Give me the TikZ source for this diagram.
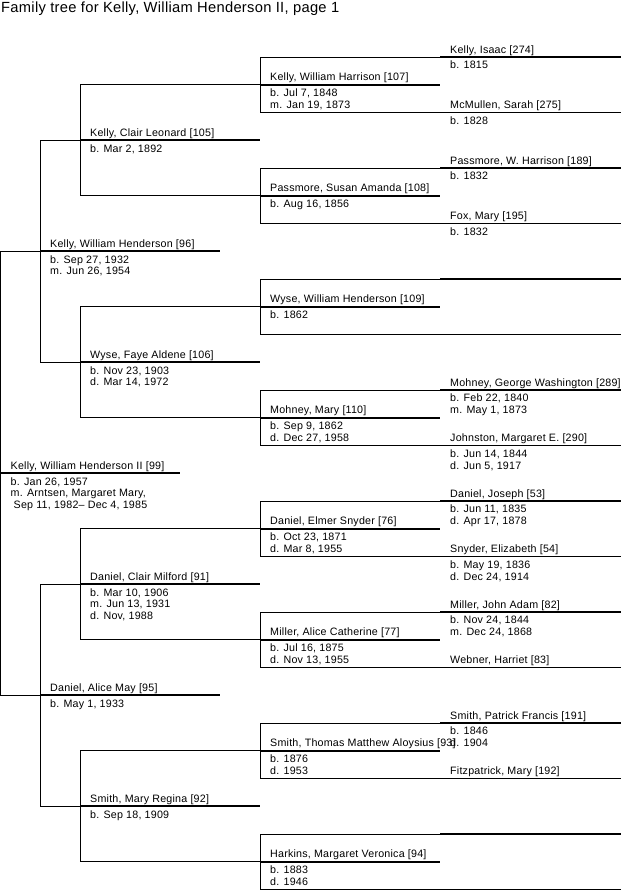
\documentclass[tikz,border=0pt]{standalone}
\usepackage{fontspec}
\setmainfont{Liberation Sans}[LetterSpace=2]
\usetikzlibrary{calc}
\tikzset{
  thickln/.style={line width=1.6pt},
  thinln/.style={line width=0.8pt},
  namelbl/.style={anchor=base west, inner sep=0pt, xshift=10pt, yshift=4pt, font=\fontsize{10.7}{12}\selectfont},
  datelbl/.style={anchor=north west, inner sep=0pt, xshift=10pt, yshift=-4pt, align=left, font=\fontsize{10.7}{11.6}\selectfont},
  titlelbl/.style={anchor=base west, inner sep=0pt, font=\fontsize{14.7}{16}\selectfont},
}
% #1 id, #2 x, #3 y, #4 x end, #5 name, #6 details
\newcommand{\famperson}[6]{%
  \coordinate (#1-s) at (#2,#3);
  \coordinate (#1-e) at (#4,#3);
  \draw[thickln] (#1-s) -- (#1-e);
  \node[namelbl] (#1-n) at (#1-s) {#5};
  \node[datelbl] (#1-d) at (#1-s) {#6};
}
\newcommand{\famname}[5]{%
  \coordinate (#1-s) at (#2,#3);
  \coordinate (#1-e) at (#4,#3);
  \draw[thickln] (#1-s) -- (#1-e);
  \node[namelbl] (#1-n) at (#1-s) {#5};
}
\newcommand{\famblank}[4]{%
  \coordinate (#1-s) at (#2,#3);
  \coordinate (#1-e) at (#4,#3);
  \draw[thickln] (#1-s) -- (#1-e);
}
\newcommand{\famlink}[3]{% child, father, mother
  \draw[thinln] (#2-s) -- (#1-s |- #2-s) -- (#1-s |- #3-s) -- (#3-s);
}
\begin{document}
\begin{tikzpicture}[x=1pt,y=-1pt]
\useasboundingbox (0,0) rectangle (621,891);
\node[titlelbl] (title) at (1,13) {Family tree for Kelly, William Henderson II, page 1};

% generation 4
\famperson{a0}{440}{57}{621}{Kelly, Isaac [274]}{b. 1815}
\famperson{a1}{440}{112.5}{621}{McMullen, Sarah [275]}{b. 1828}
\famperson{a2}{440}{168}{621}{Passmore, W. Harrison [189]}{b. 1832}
\famperson{a3}{440}{223.5}{621}{Fox, Mary [195]}{b. 1832}
\famblank{a4}{440}{279}{621}
\famblank{a5}{440}{334.5}{621}
\famperson{a6}{440}{390}{621}{Mohney, George Washington [289]}{b. Feb 22, 1840\\m. May 1, 1873}
\famperson{a7}{440}{445.5}{621}{Johnston, Margaret E. [290]}{b. Jun 14, 1844\\d. Jun 5, 1917}
\famperson{a8}{440}{501}{621}{Daniel, Joseph [53]}{b. Jun 11, 1835\\d. Apr 17, 1878}
\famperson{a9}{440}{556.5}{621}{Snyder, Elizabeth [54]}{b. May 19, 1836\\d. Dec 24, 1914}
\famperson{a10}{440}{612}{621}{Miller, John Adam [82]}{b. Nov 24, 1844\\m. Dec 24, 1868}
\famname{a11}{440}{667.5}{621}{Webner, Harriet [83]}
\famperson{a12}{440}{723}{621}{Smith, Patrick Francis [191]}{b. 1846\\d. 1904}
\famname{a13}{440}{778.5}{621}{Fitzpatrick, Mary [192]}
\famblank{a14}{440}{834}{621}
\famblank{a15}{440}{889.5}{621}

% generation 3
\famperson{b0}{260}{84.75}{440}{Kelly, William Harrison [107]}{b. Jul 7, 1848\\m. Jan 19, 1873}
\famperson{b1}{260}{195.75}{440}{Passmore, Susan Amanda [108]}{b. Aug 16, 1856}
\famperson{b2}{260}{306.75}{440}{Wyse, William Henderson [109]}{b. 1862}
\famperson{b3}{260}{417.75}{440}{Mohney, Mary [110]}{b. Sep 9, 1862\\d. Dec 27, 1958}
\famperson{b4}{260}{528.75}{440}{Daniel, Elmer Snyder [76]}{b. Oct 23, 1871\\d. Mar 8, 1955}
\famperson{b5}{260}{639.75}{440}{Miller, Alice Catherine [77]}{b. Jul 16, 1875\\d. Nov 13, 1955}
\famperson{b6}{260}{750.75}{440}{Smith, Thomas Matthew Aloysius [93]}{b. 1876\\d. 1953}
\famperson{b7}{260}{861.75}{440}{Harkins, Margaret Veronica [94]}{b. 1883\\d. 1946}

% generation 2
\famperson{c0}{80}{140.25}{260}{Kelly, Clair Leonard [105]}{b. Mar 2, 1892}
\famperson{c1}{80}{362.25}{260}{Wyse, Faye Aldene [106]}{b. Nov 23, 1903\\d. Mar 14, 1972}
\famperson{c2}{80}{584.25}{260}{Daniel, Clair Milford [91]}{b. Mar 10, 1906\\m. Jun 13, 1931\\d. Nov, 1988}
\famperson{c3}{80}{806.25}{260}{Smith, Mary Regina [92]}{b. Sep 18, 1909}

% generation 1
\famperson{d0}{40}{251.25}{220}{Kelly, William Henderson [96]}{b. Sep 27, 1932\\m. Jun 26, 1954}
\famperson{d1}{40}{695.25}{220}{Daniel, Alice May [95]}{b. May 1, 1933}

% generation 0
\famperson{e0}{0.5}{473.25}{180}{Kelly, William Henderson II [99]}{b. Jan 26, 1957\\m. Arntsen, Margaret Mary,\\\hspace*{3pt}Sep 11, 1982-- Dec 4, 1985}

% links
\famlink{b0}{a0}{a1}
\famlink{b1}{a2}{a3}
\famlink{b2}{a4}{a5}
\famlink{b3}{a6}{a7}
\famlink{b4}{a8}{a9}
\famlink{b5}{a10}{a11}
\famlink{b6}{a12}{a13}
\famlink{b7}{a14}{a15}
\famlink{c0}{b0}{b1}
\famlink{c1}{b2}{b3}
\famlink{c2}{b4}{b5}
\famlink{c3}{b6}{b7}
\famlink{d0}{c0}{c1}
\famlink{d1}{c2}{c3}
\famlink{e0}{d0}{d1}
\end{tikzpicture}
\end{document}
